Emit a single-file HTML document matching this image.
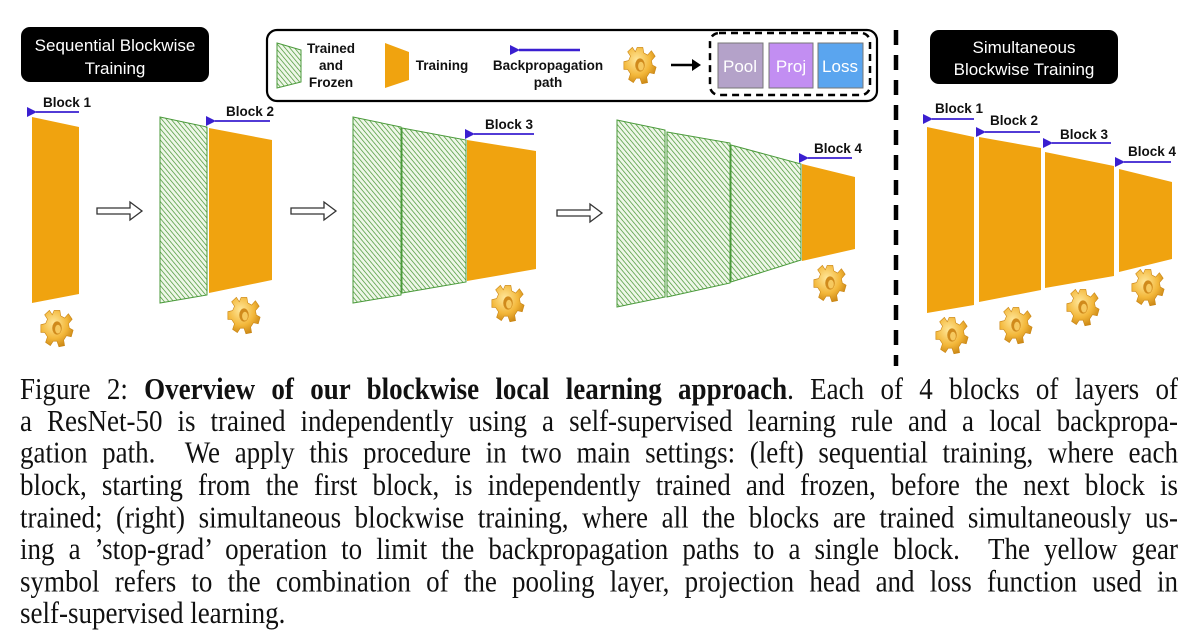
<!DOCTYPE html>
<html><head><meta charset="utf-8"><style>
html,body{margin:0;padding:0;background:#fff;width:1200px;height:644px;overflow:hidden}
.cap{position:absolute;left:20px;top:373px;width:1158px;font-family:"Liberation Serif",serif;font-size:27px;color:#111;line-height:28.65px;white-space:nowrap;transform:scaleY(1.12);transform-origin:0 0}
.cap div{text-align:justify;text-align-last:justify;height:28.65px}
.cap div.l{text-align-last:left}
</style></head><body>
<svg width="1200" height="370" style="position:absolute;left:0;top:0" font-family="Liberation Sans, sans-serif">
<defs>
<pattern id="h" patternUnits="userSpaceOnUse" width="3.6" height="3.6" patternTransform="rotate(-40)">
<rect width="3.6" height="3.6" fill="#eef7e8"/><line x1="0" y1="0" x2="0" y2="3.6" stroke="#4f9a3c" stroke-width="1.5"/>
</pattern>
<radialGradient id="gg" cx="0.4" cy="0.35" r="0.7"><stop offset="0" stop-color="#ffe79a"/><stop offset="0.6" stop-color="#f3b73a"/><stop offset="1" stop-color="#c98412"/></radialGradient>
<g id="gear" transform="scale(0.95,1.1)">
<g fill="url(#gg)" stroke="#c98412" stroke-width="0.6">
<path d="M-3,-16 L3,-16 L4,-11 L8,-9 L12,-13 L16,-8 L12,-4 L13,0 L17,2 L15,8 L10,7 L7,11 L8,16 L2,17 L0,12 L-4,12 L-7,16 L-12,13 L-10,8 L-13,4 L-17,4 L-17,-3 L-12,-4 L-10,-8 L-13,-12 L-8,-16 L-5,-12 Z"/>
</g>
<ellipse cx="0" cy="0" rx="5" ry="6" fill="#d08a1c"/>
<ellipse cx="1" cy="1" rx="3" ry="4" fill="#f6c960"/>
</g>
<marker id="ba" markerWidth="10" markerHeight="10" refX="1" refY="5" orient="auto" markerUnits="userSpaceOnUse"><path d="M10,0 L0,5 L10,10 Z" fill="#3a1fd0"/></marker>
<g id="ha"><path d="M0,-3 L33,-3 L33,-9 L45,0 L33,9 L33,3 L0,3 Z" fill="#fff" stroke="#333" stroke-width="1.3"/></g>
</defs>

<rect x="21" y="27" width="188" height="55" rx="9" fill="#000"/>
<text x="115" y="51" fill="#fff" font-size="17" text-anchor="middle">Sequential Blockwise</text>
<text x="115" y="74" fill="#fff" font-size="17" text-anchor="middle">Training</text>

<rect x="267" y="30" width="610" height="71" rx="10" fill="#fff" stroke="#000" stroke-width="2.2"/>
<polygon points="277,43 301,50 301,82 277,88" fill="url(#h)" stroke="#4a9a3a"/>
<g font-size="13.5" font-weight="bold" text-anchor="middle" fill="#111">
<text x="331" y="53">Trained</text><text x="331" y="70">and</text><text x="331" y="87">Frozen</text>
<text x="442" y="70">Training</text>
<text x="548" y="70">Backpropagation</text><text x="548" y="87">path</text>
</g>
<polygon points="385,43 409,52 409,80 385,88" fill="#f0a30f"/>
<line x1="580" y1="50" x2="519" y2="50" stroke="#3a1fd0" stroke-width="2.5" marker-end="url(#ba)"/>
<use href="#gear" x="640" y="65"/>
<line x1="671" y1="65" x2="694" y2="65" stroke="#000" stroke-width="2.5"/>
<path d="M692,59 L701,65 L692,71 Z" fill="#000"/>
<rect x="710" y="33" width="160" height="62" rx="9" fill="none" stroke="#000" stroke-width="2.5" stroke-dasharray="7,5"/>
<rect x="718" y="43" width="45" height="45" fill="#b4a2c9" stroke="#777"/>
<rect x="769" y="43" width="44" height="45" fill="#c28ef2" stroke="#777"/>
<rect x="818" y="43" width="45" height="45" fill="#5aa5ef" stroke="#777"/>
<g font-size="17" fill="#fff" text-anchor="middle"><text x="740" y="72">Pool</text><text x="791" y="72">Proj</text><text x="840" y="72">Loss</text></g>

<line x1="896" y1="30" x2="896" y2="366" stroke="#000" stroke-width="4.5" stroke-dasharray="15,10"/>

<rect x="930" y="30" width="188" height="54" rx="9" fill="#000"/>
<text x="1024" y="53" fill="#fff" font-size="17" text-anchor="middle">Simultaneous</text>
<text x="1024" y="75" fill="#fff" font-size="17" text-anchor="middle">Blockwise Training</text>

<g font-size="13.5" font-weight="bold" fill="#111">
<text x="43" y="107">Block 1</text>
<line x1="79" y1="112" x2="36" y2="112" stroke="#3a1fd0" stroke-width="1.8" marker-end="url(#ba)"/>
<polygon points="32,117 79,127 79,294 32,303" fill="#f0a30f"/>
<use href="#gear" x="57" y="328"/>
<use href="#ha" x="97" y="211"/>

<text x="226" y="116">Block 2</text>
<line x1="270" y1="121" x2="215" y2="121" stroke="#3a1fd0" stroke-width="1.8" marker-end="url(#ba)"/>
<polygon points="160,117 207,127 207,295 160,303" fill="url(#h)" stroke="#4a9a3a"/>
<polygon points="209,128 272,140 272,280 209,293" fill="#f0a30f"/>
<use href="#gear" x="244" y="315"/>
<use href="#ha" x="291" y="211"/>

<text x="485" y="129">Block 3</text>
<line x1="534" y1="134" x2="474" y2="134" stroke="#3a1fd0" stroke-width="1.8" marker-end="url(#ba)"/>
<polygon points="353,117 401,127 401,295 353,303" fill="url(#h)" stroke="#4a9a3a"/>
<polygon points="402,128 466,140 466,282 402,293" fill="url(#h)" stroke="#4a9a3a"/>
<polygon points="467,140 536,151 536,269 467,281" fill="#f0a30f"/>
<use href="#gear" x="508" y="303"/>
<use href="#ha" x="557" y="213"/>

<text x="814" y="153">Block 4</text>
<line x1="852" y1="158" x2="808" y2="158" stroke="#3a1fd0" stroke-width="1.8" marker-end="url(#ba)"/>
<polygon points="617,120 665,130 665,297 617,307" fill="url(#h)" stroke="#4a9a3a"/>
<polygon points="667,132 730,143 730,283 667,297" fill="url(#h)" stroke="#4a9a3a"/>
<polygon points="731,145 801,164 801,260 731,282" fill="url(#h)" stroke="#4a9a3a"/>
<polygon points="802,164 855,177 855,249 802,261" fill="#f0a30f"/>
<use href="#gear" x="830" y="283"/>

<text x="935" y="113">Block 1</text>
<line x1="974" y1="119" x2="932" y2="119" stroke="#3a1fd0" stroke-width="1.8" marker-end="url(#ba)"/>
<polygon points="927,127 974,137 974,305 927,313" fill="#f0a30f"/>
<text x="990" y="125">Block 2</text>
<line x1="1040" y1="132" x2="985" y2="132" stroke="#3a1fd0" stroke-width="1.8" marker-end="url(#ba)"/>
<polygon points="979,137 1041,148 1041,290 979,302" fill="#f0a30f"/>
<text x="1060" y="139">Block 3</text>
<line x1="1111" y1="143" x2="1052" y2="143" stroke="#3a1fd0" stroke-width="1.8" marker-end="url(#ba)"/>
<polygon points="1045,152 1114,166 1114,276 1045,288" fill="#f0a30f"/>
<text x="1128" y="156">Block 4</text>
<line x1="1171" y1="162" x2="1124" y2="162" stroke="#3a1fd0" stroke-width="1.8" marker-end="url(#ba)"/>
<polygon points="1119,169 1172,182 1172,259 1119,272" fill="#f0a30f"/>
</g>
<use href="#gear" x="952" y="335"/>
<use href="#gear" x="1016" y="325"/>
<use href="#gear" x="1083" y="307"/>
<use href="#gear" x="1148" y="287"/>
</svg>

<div class="cap">
<div>Figure 2: <b>Overview of our blockwise local learning approach</b>. Each of 4 blocks of layers of</div>
<div>a ResNet-50 is trained independently using a self-supervised learning rule and a local backpropa-</div>
<div>gation path. &nbsp;We apply this procedure in two main settings: (left) sequential training, where each</div>
<div>block, starting from the first block, is independently trained and frozen, before the next block is</div>
<div>trained; (right) simultaneous blockwise training, where all the blocks are trained simultaneously us-</div>
<div>ing a ’stop-grad’ operation to limit the backpropagation paths to a single block. &nbsp;The yellow gear</div>
<div>symbol refers to the combination of the pooling layer, projection head and loss function used in</div>
<div class="l">self-supervised learning.</div>
</div>
</body></html>
